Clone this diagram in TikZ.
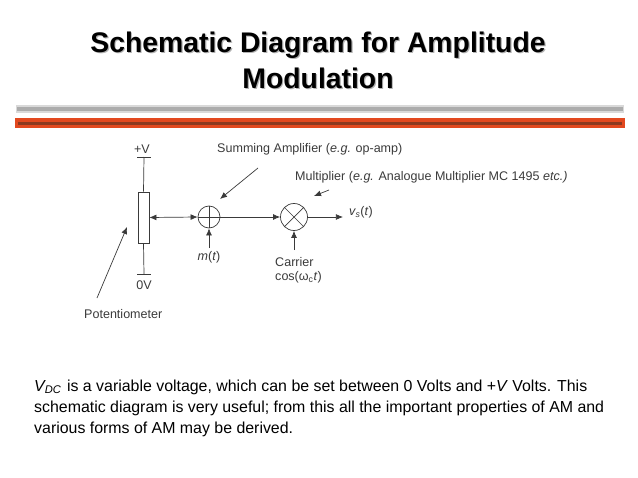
\documentclass[tikz,border=0pt]{standalone}
\usepackage{fontspec}
\setmainfont{Liberation Sans}
\usetikzlibrary{arrows.meta}
\definecolor{inkgray}{HTML}{3A3A3A}
\definecolor{barred}{HTML}{E2491F}
\definecolor{bardark}{HTML}{8C3A20}
\tikzset{
	wire/.style={semithick, inkgray, >={Latex[length=6pt,width=5pt]}},
	lab/.style={inkgray, font=\fontsize{10.7}{12}\selectfont, inner sep=0pt},
	leftlab/.style={lab, anchor=west},
	body/.style={black, font=\fontsize{13.57}{16}\selectfont, anchor=west, inner sep=0pt},
	titletext/.style={font=\bfseries\fontsize{24.2}{28}\selectfont, inner sep=0pt},
	junction/.style={circle, draw=inkgray, semithick, inner sep=0pt}
}
\begin{document}
\begin{tikzpicture}[x=0.03cm, y=-0.03cm]
	\useasboundingbox (0,0) rectangle (638,478);
	
	%title with its shadow
	\node[titletext, gray!60] (titleshadeA) at (319.2, 46.2){Schematic Diagram for Amplitude};
	\node[titletext, gray!60] (titleshadeB) at (319.2, 79.2){Modulation};
	\node[titletext] (titleA) at (318, 45){Schematic Diagram for Amplitude};
	\node[titletext] (titleB) at (318, 78){Modulation};
	
	%bars
	\fill[gray!30] (16, 105) rectangle (624, 113);
	\fill[gray!65] (17, 107) rectangle (623, 111);
	\fill[barred] (15, 118) rectangle (625, 128);
	\fill[bardark] (18, 122) rectangle (622, 125);
	
	%potentiometer
	\node[draw=inkgray, semithick, minimum width=11*0.03cm, minimum height=51*0.03cm, inner sep=0pt] (pot) at (143.5, 217.5){};
	\coordinate (topbar) at (144, 157);
	\coordinate (botbar) at (144, 274);
	\draw[wire] (137, 157) -- (151, 157);
	\draw[wire] (137, 274) -- (151, 274);
	\draw[wire] (topbar) -- (pot.north);
	\draw[wire] (pot.south) -- (botbar);
	\node[lab] (plusv) at (142, 149){+V};
	\node[lab] (zerov) at (144, 285){0V};
	
	%blocks
	\node[junction, minimum size=22*0.03cm] (sumamp) at (209, 217){};
	\draw[wire] (sumamp.north) -- (sumamp.south);
	\draw[wire] (sumamp.west) -- (sumamp.east);
	\node[junction, minimum size=27*0.03cm] (mult) at (294, 217){};
	\draw[wire] (mult.north west) -- (mult.south east);
	\draw[wire] (mult.north east) -- (mult.south west);
	
	%signal path
	\coordinate (outend) at (343, 217);
	\draw[wire, <->] (pot.east) -- (sumamp.west);
	\draw[wire, ->] (sumamp.east) -- (mult.west);
	\draw[wire, ->] (mult.east) -- (outend);
	\node[leftlab] (vsout) at (349, 212){\textit{v\textsubscript{s}}(\textit{t})};
	
	\node[lab] (mlabel) at (209, 257){\textit{m}(\textit{t})};
	\coordinate (mfoot) at (209, 248);
	\draw[wire, ->] (mfoot) -- (sumamp.south);
	
	\node[leftlab] (carrier) at (275, 262){Carrier};
	\node[leftlab] (carrierfn) at (275, 277){cos(ω\textsubscript{\upshape c}\textit{t})};
	\coordinate (cfoot) at (294, 250);
	\draw[wire, ->] (cfoot) -- (mult.south);
	
	%pointers
	\node[leftlab] (sumlabel) at (217, 149){Summing Amplifier (\textit{e.g.} op-amp)};
	\node[leftlab] (multlabel) at (295, 177){Multiplier (\textit{e.g.} Analogue Multiplier MC 1495 \textit{etc.)}};
	\node[leftlab] (potlabel) at (84, 314){Potentiometer};
	\coordinate (sumtail) at (258, 168);
	\coordinate (sumhead) at (220, 199);
	\coordinate (multtail) at (329, 190);
	\coordinate (multhead) at (314, 196);
	\coordinate (pottail) at (97, 298);
	\coordinate (pothead) at (127, 227);
	\draw[wire, ->] (sumtail) -- (sumhead);
	\draw[wire, ->] (multtail) -- (multhead);
	\draw[wire, ->] (pottail) -- (pothead);
	
	%text below
	\node[body] (lineA) at (34, 387){\textit{V\textsubscript{DC}}\kern1pt\ is a variable voltage, which can be set between 0 Volts and +\textit{V} Volts. This};
	\node[body] (lineB) at (34, 408.5){schematic diagram is very useful; from this all the important properties of AM and};
	\node[body] (lineC) at (34, 429){various forms of AM may be derived.};
\end{tikzpicture}
\end{document}
